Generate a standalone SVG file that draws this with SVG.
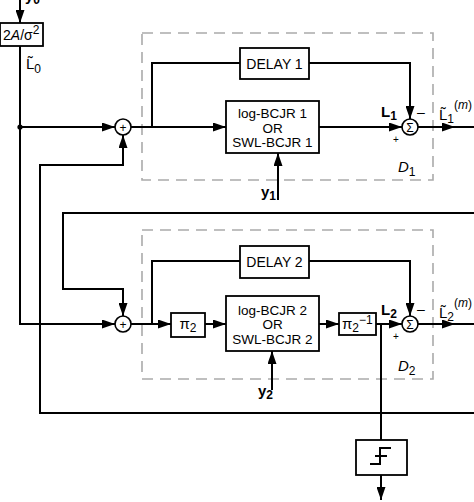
<svg xmlns="http://www.w3.org/2000/svg" width="474" height="502" viewBox="0 0 474 502">
<defs>
<marker id="ah" markerUnits="userSpaceOnUse" markerWidth="13" markerHeight="9" refX="13" refY="4.5" orient="auto">
<path d="M0,0 L13,4.5 L0,9 z" fill="#000"/>
</marker>
</defs>
<style>
text{font-family:"Liberation Sans",Arial,sans-serif;fill:#000}
.box{fill:#fff;stroke:#000;stroke-width:1.8}
.dash{fill:none;stroke:#aaa;stroke-width:1.6;stroke-dasharray:11,7}
.ln{fill:none;stroke:#000;stroke-width:2}
.arr{fill:none;stroke:#000;stroke-width:2;marker-end:url(#ah)}
.t{font-size:14px}
.m{font-size:13.5px}
.l{font-size:15px}
.b{font-weight:bold}
.s{font-size:12px}
.c{text-anchor:middle}
</style>
<rect class="dash" x="142" y="33" width="291" height="147"/>
<rect class="dash" x="142" y="230" width="291" height="149"/>
<g id="connectors">
<path class="arr" d="M20,0 V23"/>
<path class="arr" d="M20,46 V324 H115"/>
<path class="arr" d="M20,127 H115"/>
<circle cx="20" cy="127" r="2.6" fill="#000"/>
<path class="arr" d="M131,127 H226"/>
<path class="ln" d="M152,127 V63 H240"/>
<path class="arr" d="M309,63 H410 V119"/>
<path class="arr" d="M278,200 V153"/>
<path class="arr" d="M319,127 H402"/>
<path class="arr" d="M418,127 H455"/>
<path class="ln" d="M454,127 H474"/>
<path class="arr" d="M474,213 H63 V289 H123 V316"/>
<path class="arr" d="M474,413 H40 V165 H123 V135"/>
<path class="arr" d="M131,324 H171"/>
<path class="ln" d="M152,324 V261 H240"/>
<path class="arr" d="M309,261 H410 V316"/>
<path class="arr" d="M205,324 H226"/>
<path class="arr" d="M272,390 V351"/>
<path class="arr" d="M319,324 H339"/>
<path class="arr" d="M376,324 H402"/>
<path class="arr" d="M418,324 H455"/>
<path class="ln" d="M454,324 H474"/>
<path class="ln" d="M381,324 V440"/>
<path class="arr" d="M381,475 V500"/>
</g>
<g id="scale">
<rect class="box" x="0" y="23" width="43" height="23"/>
<text class="t" x="3" y="40">2<tspan font-style="italic">A</tspan>/σ<tspan class="s" dy="-6">2</tspan></text>
</g>
<g id="adder1">
<circle cx="123" cy="127" r="8" fill="#fff" stroke="#000" stroke-width="1.6"/>
<text class="c" x="123" y="131.5" font-size="12">+</text>
</g>
<g id="adder2">
<circle cx="123" cy="324" r="8" fill="#fff" stroke="#000" stroke-width="1.6"/>
<text class="c" x="123" y="328.5" font-size="12">+</text>
</g>
<g id="delay1">
<rect class="box" x="240" y="48" width="69" height="31"/>
<text class="t c" x="274.5" y="68.5">DELAY 1</text>
</g>
<g id="bcjr1">
<rect class="box" x="226" y="101" width="93" height="52"/>
<text class="m c" x="272.5" y="118">log-BCJR 1</text>
<text class="m c" x="272.5" y="132.5">OR</text>
<text class="m c" x="272.5" y="147">SWL-BCJR 1</text>
</g>
<g id="sum1">
<circle cx="410" cy="127" r="8" fill="#fff" stroke="#000" stroke-width="1.6"/>
<text class="c" x="410" y="131.5" font-size="12">Σ</text>
</g>
<g id="delay2">
<rect class="box" x="240" y="246" width="69" height="32"/>
<text class="t c" x="274.5" y="267">DELAY 2</text>
</g>
<g id="pi2">
<rect class="box" x="171" y="313" width="34" height="24"/>
<text class="l c" x="188" y="329">π<tspan class="s" dy="3">2</tspan></text>
</g>
<g id="bcjr2">
<rect class="box" x="226" y="296" width="93" height="55"/>
<text class="m c" x="272.5" y="314.5">log-BCJR 2</text>
<text class="m c" x="272.5" y="329">OR</text>
<text class="m c" x="272.5" y="343.5">SWL-BCJR 2</text>
</g>
<g id="pi2inv">
<rect class="box" x="339" y="313" width="37" height="22"/>
<text class="l" x="342" y="329">π<tspan class="s" dy="3">2</tspan><tspan class="s" dy="-8">−1</tspan></text>
</g>
<g id="sum2">
<circle cx="410" cy="324" r="8" fill="#fff" stroke="#000" stroke-width="1.6"/>
<text class="c" x="410" y="328.5" font-size="12">Σ</text>
</g>
<g id="limiter">
<rect class="box" x="356" y="440" width="51" height="35"/>
<path class="ln" d="M370,464 H380 V448 H391 M375,456 H387" stroke-width="1.8"/>
</g>
<g id="labels">
<text class="l b" x="25" y="1">y<tspan class="s" dy="3">0</tspan></text>
<text class="l" x="26" y="69">L̃<tspan class="s" dy="4">0</tspan></text>
<text class="l b" x="381" y="117">L<tspan class="s" dy="3">1</tspan></text>
<text x="417" y="117" font-size="14">–</text>
<text x="393" y="143" font-size="10">+</text>
<text class="l" x="439" y="120">L̃<tspan class="s" dy="3">1</tspan><tspan class="s" dy="-14">(<tspan font-style="italic">m</tspan>)</tspan></text>
<text class="l" x="398" y="172"><tspan font-style="italic">D</tspan><tspan class="s" dy="4">1</tspan></text>
<text class="l b" x="261" y="197">y<tspan class="s" dy="3">1</tspan></text>
<text class="l b" x="381" y="315">L<tspan class="s" dy="3">2</tspan></text>
<text x="417" y="314" font-size="14">–</text>
<text x="393" y="340" font-size="10">+</text>
<text class="l" x="439" y="318">L̃<tspan class="s" dy="3">2</tspan><tspan class="s" dy="-14">(<tspan font-style="italic">m</tspan>)</tspan></text>
<text class="l" x="398" y="371"><tspan font-style="italic">D</tspan><tspan class="s" dy="4">2</tspan></text>
<text class="l b" x="258" y="396">y<tspan class="s" dy="3">2</tspan></text>
</g>
</svg>
